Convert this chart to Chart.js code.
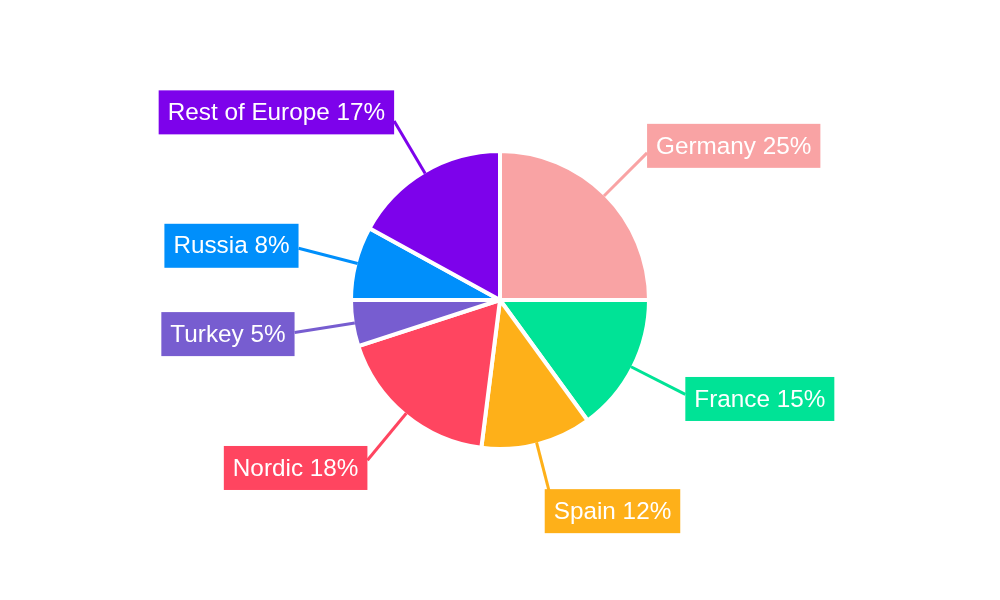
<!DOCTYPE html>
<html>
<head>
<meta charset="utf-8">
<script src="https://cdn.jsdelivr.net/npm/chart.js@4.4.0/dist/chart.umd.min.js"></script>
<style>
  html, body { margin: 0; padding: 0; background: #fff; }
  #wrap { width: 1000px; height: 600px; }
</style>
</head>
<body>
<div id="wrap"><canvas id="chart"></canvas></div>
<script>
const regions = ["Germany", "France", "Spain", "Nordic", "Turkey", "Russia", "Rest of Europe"];
const shares = [25, 15, 12, 18, 5, 8, 17];
const colors = ["#F9A3A4", "#00E396", "#FEB019", "#FF4560", "#775DD0", "#008FFB", "#7D02EB"];

// leader lines + boxed labels
const calloutPlugin = {
  id: "callouts",
  afterDatasetsDraw(chart) {
    const ctx = chart.ctx;
    const arcs = chart.getDatasetMeta(0).data;
    ctx.save();
    ctx.font = "24.3px 'Liberation Sans', Arial, sans-serif";
    ctx.textBaseline = "middle";
    arcs.forEach((arc, i) => {
      const {x, y, startAngle, endAngle, outerRadius} = arc.getProps(["x", "y", "startAngle", "endAngle", "outerRadius"], true);
      const mid = (startAngle + endAngle) / 2;
      const dx = Math.cos(mid), dy = Math.sin(mid);
      const r0 = outerRadius - 2;
      const x0 = x + dx * r0, y0 = y + dy * r0;
      const x1 = x + dx * (r0 + 61), y1 = y + dy * (r0 + 61);

      ctx.strokeStyle = colors[i];
      ctx.lineWidth = 3;
      ctx.beginPath();
      ctx.moveTo(x0, y0);
      ctx.lineTo(x1, y1);
      ctx.stroke();

      const text = regions[i] + " " + shares[i] + "%";
      const w = ctx.measureText(text).width + 18;
      const h = 44;
      let left = dx >= 0 ? x1 : x1 - w;
      if (Math.abs(dx) < 0.3) left -= 7; // labels below/above the pie sit a bit off the line
      const cy = y1 + dy * 10;
      ctx.fillStyle = colors[i];
      ctx.fillRect(left, cy - h / 2, w, h);
      ctx.fillStyle = "#fff";
      ctx.textAlign = "center";
      ctx.fillText(text, left + w / 2, cy + 1);
    });
    ctx.restore();
  }
};

new Chart(document.getElementById("chart"), {
  type: "pie",
  data: {
    labels: regions,
    datasets: [{
      data: shares,
      backgroundColor: colors,
      borderColor: "#fff",
      borderWidth: 4
    }]
  },
  options: {
    responsive: true,
    maintainAspectRatio: false,
    animation: false,
    layout: { padding: { top: 149, bottom: 149 } },
    plugins: {
      legend: { display: false },
      tooltip: { enabled: false }
    }
  },
  plugins: [calloutPlugin]
});
</script>
</body>
</html>
